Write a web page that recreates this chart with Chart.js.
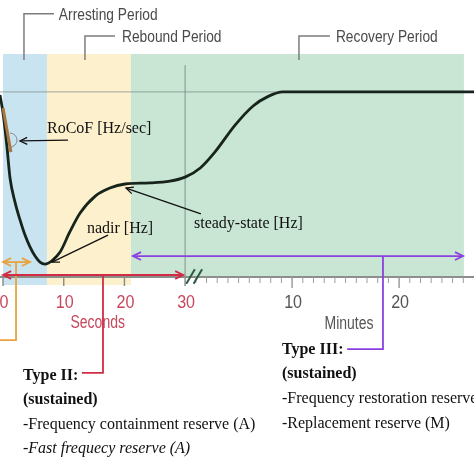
<!DOCTYPE html>
<html>
<head>
<meta charset="utf-8">
<script src="https://cdn.jsdelivr.net/npm/chart.js@4/dist/chart.umd.min.js"></script>
<style>
  html, body { margin: 0; padding: 0; background: #fff; }
  #wrap { width: 474px; height: 474px; position: relative; }
</style>
</head>
<body>
<div id="wrap"><canvas id="c"></canvas></div>
<script>
// 横軸は「秒換算の位置」。30 秒以降は分スケール（1 分 = MIN_STEP）
const MIN_STEP = 1.763;

// 周波数応答カーブ（x: 軸位置, y: 相対周波数 0-100）
const curveX = [-0.5, 0, 0.65, 1.15, 1.97, 2.8, 3.62, 4.44, 5.27, 6.09, 6.91, 8.1, 9.4, 11, 12.7, 15.2, 17.6, 20.1, 24.2, 27.5, 30, 32.5, 34.9, 38.2, 41.2, 43.7, 46.1, 77.6];
const curveY = [81.6, 73.5, 58.3, 44.4, 33.6, 25.6, 18.8, 13.5, 9.4, 6.7, 5.8, 7.4, 11.2, 20.2, 28.7, 36.3, 39.9, 41.7, 42.2, 43, 44.8, 48.9, 56, 68, 76.7, 81, 83, 83];

// 目盛り
const secondTicks = [0, 10, 20, 30];
const minuteTicks = [10, 20];
const minuteMinorCount = 26;

// 期間帯（開始, 終了）
const periodNames  = ["Arresting Period", "Rebound Period", "Recovery Period"];
const periodStarts = [0, 7.24, 21.08];
const periodEnds   = [7.24, 21.08, 75.94];
const periodColors = ["#c9e4f1", "#fdf0cd", "#c9e6d4"];

// 下部テキスト
const type2Lines = ["Type II:", "(sustained)", "-Frequency containment reserve (A)", "-Fast frequecy reserve (A)"];
const type3Lines = ["Type III:", "(sustained)", "-Frequency restoration reserve", "-Replacement reserve (M)"];

const minPos = m => 30 + m * MIN_STEP;

function arrowHead(ctx, x1, y1, x2, y2, size) {
  const a = Math.atan2(y2 - y1, x2 - x1);
  ctx.beginPath();
  ctx.moveTo(x2 - size * Math.cos(a - 0.45), y2 - size * Math.sin(a - 0.45));
  ctx.lineTo(x2, y2);
  ctx.lineTo(x2 - size * Math.cos(a + 0.45), y2 - size * Math.sin(a + 0.45));
  ctx.stroke();
}

function line(ctx, pts, color, w) {
  ctx.beginPath();
  ctx.strokeStyle = color;
  ctx.lineWidth = w;
  pts.forEach((p, i) => i ? ctx.lineTo(p[0], p[1]) : ctx.moveTo(p[0], p[1]));
  ctx.stroke();
}

// 横方向に詰めた（コンデンス風）テキスト
function narrowText(ctx, text, x, y, sx) {
  ctx.save();
  ctx.translate(x, y);
  ctx.scale(sx, 1);
  ctx.fillText(text, 0, 0);
  ctx.restore();
}

// 背景帯・軸・目盛り
const backgroundPlugin = {
  id: "backgroundPlugin",
  beforeDatasetsDraw(chart) {
    const { ctx } = chart;
    const xs = chart.scales.x, ys = chart.scales.y;
    const X = v => xs.getPixelForValue(v), Y = v => ys.getPixelForValue(v);
    ctx.save();
    periodStarts.forEach((s, i) => {
      const bottom = i < 2 ? Y(-3.6) : Y(0);
      ctx.fillStyle = periodColors[i];
      ctx.fillRect(X(s), Y(100), X(periodEnds[i]) - X(s), bottom - Y(100));
    });
    // 補助線
    line(ctx, [[X(-0.5), Y(83)], [X(77.6), Y(83)]], "rgba(120,135,130,0.7)", 1);
    line(ctx, [[X(30), Y(95)], [X(30), Y(0)]], "rgba(110,125,120,0.8)", 1);
    // 軸線
    line(ctx, [[X(-0.5), Y(0)], [X(77.6), Y(0)]], "#8a8f8c", 2);
    secondTicks.forEach(t => line(ctx, [[X(t), Y(0)], [X(t), Y(0) + 9]], "#8a8f8c", 1.5));
    for (let m = 1; m <= minuteMinorCount; m++) {
      const major = minuteTicks.includes(m);
      line(ctx, [[X(minPos(m)), Y(0)], [X(minPos(m)), Y(0) + (major ? 11 : 6)]], "#9a9f9c", major ? 1.5 : 1);
    }
    ctx.restore();
  },
  afterDatasetsDraw(chart) {
    const { ctx } = chart;
    const xs = chart.scales.x, ys = chart.scales.y;
    const X = v => xs.getPixelForValue(v), Y = v => ys.getPixelForValue(v);
    ctx.save();

    // 軸ラベル
    ctx.font = "17.5px 'Liberation Sans', sans-serif";
    ctx.textAlign = "center";
    ctx.textBaseline = "middle";
    ctx.fillStyle = "#c8475c";
    secondTicks.forEach(t => narrowText(ctx, String(t), X(t) + 1, Y(-11.9), 0.92));
    narrowText(ctx, "Seconds", X(15.6), Y(-20.8), 0.8);
    ctx.fillStyle = "#555";
    minuteTicks.forEach(m => narrowText(ctx, String(m), X(minPos(m)) + 1, Y(-11.9), 0.92));
    narrowText(ctx, "Minutes", X(57), Y(-21), 0.8);

    // 軸の省略記号 //
    line(ctx, [[X(30.2), Y(-3)], [X(31.6), Y(3.5)]], "#2d5a42", 2);
    line(ctx, [[X(31.4), Y(-3)], [X(32.8), Y(3.5)]], "#2d5a42", 2);

    // 期間ラベル
    const leaders = [[3.45, 118, 8.4, 9.2], [13.5, 108.1, 18.45, 19.6], [48.76, 108.1, 53.86, 54.85]];
    ctx.font = "17px 'Liberation Sans', sans-serif";
    ctx.textAlign = "left";
    periodNames.forEach((n, i) => {
      const [lx, ly, ex, tx] = leaders[i];
      line(ctx, [[X(lx), Y(97.3)], [X(lx), Y(ly)], [X(ex), Y(ly)]], "#7d7d7d", 1.5);
      ctx.fillStyle = "#4a4a4a";
      narrowText(ctx, n, X(tx), Y(ly) + 1, 0.81);
    });

    // RoCoF
    line(ctx, [[X(0), Y(75.8)], [X(1.3), Y(56)]], "#a9773f", 3);
    ctx.beginPath();
    ctx.strokeStyle = "#8a8a8a";
    ctx.lineWidth = 1;
    ctx.arc(X(1.15), Y(61.4), 7, -Math.PI / 2, Math.PI / 2);
    ctx.stroke();
    line(ctx, [[X(10.7), Y(61.4)], [X(2.8), Y(61)]], "#111", 1.3);
    arrowHead(ctx, X(10.7), Y(61.4), X(2.8), Y(61), 8);

    ctx.font = "16px 'Liberation Serif', serif";
    ctx.fillStyle = "#111";
    ctx.fillText("RoCoF [Hz/sec]", X(7.24), Y(66.4));
    ctx.fillText("nadir [Hz]", X(13.83), Y(21.5));
    ctx.fillText("steady-state [Hz]", X(31.46), Y(23.8));

    line(ctx, [[X(17.3), Y(18.8)], [X(8.07), Y(6.7)]], "#111", 1.3);
    arrowHead(ctx, X(17.3), Y(18.8), X(8.07), Y(6.7), 8);
    line(ctx, [[X(32.6), Y(28.3)], [X(20.26), Y(39.9)]], "#111", 1.3);
    arrowHead(ctx, X(32.6), Y(28.3), X(20.26), Y(39.9), 8);

    // 予備力の矢印と引き出し線
    const spans = [
      { c: "#e9a23e", y: 6.7,  a: 0,    b: 4.44, vx: 2.14,  vy: -28.3, hx: -0.5 },
      { c: "#d22c45", y: 0.9,  a: 0,    b: 29.7, vx: 16.47, vy: -43,   hx: 13.0 },
      { c: "#8b40e0", y: 9.4,  a: 21.4, b: 75.8, vx: 62.6,  vy: -32.3, hx: 56.7 },
    ];
    spans.forEach(s => {
      line(ctx, [[X(s.a), Y(s.y)], [X(s.b), Y(s.y)]], s.c, 1.8);
      arrowHead(ctx, X(s.b) - 10, Y(s.y), X(s.b), Y(s.y), 9);
      arrowHead(ctx, X(s.a) + 10, Y(s.y), X(s.a), Y(s.y), 9);
      line(ctx, [[X(s.vx), Y(s.y)], [X(s.vx), Y(s.vy)], [X(s.hx), Y(s.vy)]], s.c, 1.8);
    });

    // 下部の説明テキスト
    const rows2 = [-44.4, -55.2, -66.4, -77.1];
    const rows3 = [-32.7, -43.5, -54.7, -65.9];
    const styles = ["bold ", "bold ", "", "italic "];
    ctx.fillStyle = "#111";
    type2Lines.forEach((t, i) => {
      ctx.font = styles[i] + "16px 'Liberation Serif', serif";
      ctx.fillText(t, X(3.29), Y(rows2[i]));
    });
    type3Lines.forEach((t, i) => {
      ctx.font = (i < 2 ? "bold " : "") + "16px 'Liberation Serif', serif";
      ctx.fillText(t, X(45.96), Y(rows3[i]));
    });
    ctx.restore();
  },
};

new Chart(document.getElementById("c"), {
  type: "line",
  data: {
    datasets: [{
      data: curveX.map((x, i) => ({ x, y: curveY[i] })),
      borderColor: "#17241c",
      borderWidth: 2.8,
      pointRadius: 0,
      cubicInterpolationMode: "monotone",
      fill: false,
    }],
  },
  options: {
    responsive: true,
    maintainAspectRatio: false,
    animation: false,
    layout: { padding: { top: 54, bottom: 197, left: 0, right: 0 } },
    plugins: { legend: { display: false }, tooltip: { enabled: false } },
    scales: {
      x: { type: "linear", min: -0.5, max: 77.6, display: false },
      y: { min: 0, max: 100, display: false },
    },
  },
  plugins: [backgroundPlugin],
});
</script>
</body>
</html>
